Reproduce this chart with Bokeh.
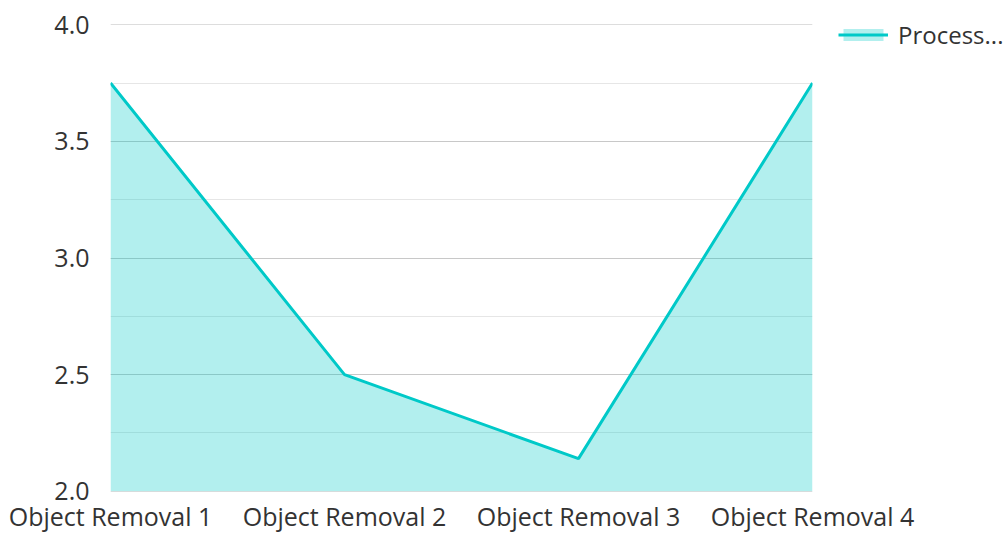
from bokeh.plotting import figure
from bokeh.models import Range1d, FixedTicker, SingleIntervalTicker, NumeralTickFormatter, Legend, LegendItem, ColumnDataSource
from bokeh.embed import file_html
from bokeh.resources import INLINE

categories = ["Object Removal 1", "Object Removal 2", "Object Removal 3", "Object Removal 4"]
values = [3.75, 2.5, 2.14, 3.75]
series_name = "Process..."

xs = list(range(len(categories)))
src = ColumnDataSource(dict(x=xs, y=values, base=[2.0] * len(xs)))

FONT = "Open Sans"
TXT = "#333333"
LINE = "#00c9c8"

p = figure(frame_width=702, frame_height=467, output_backend="svg", toolbar_location=None,
           x_range=Range1d(0, 3), y_range=Range1d(1.999, 4.001),
           min_border_left=110, min_border_right=178, min_border_top=24, min_border_bottom=39)
p.outline_line_color = None
p.background_fill_color = "white"

p.xaxis.ticker = FixedTicker(ticks=xs)
p.xaxis.major_label_overrides = {i: c for i, c in enumerate(categories)}
p.yaxis.ticker = SingleIntervalTicker(interval=0.5, num_minor_ticks=2)
p.yaxis.formatter = NumeralTickFormatter(format="0.0")
for ax in (p.xaxis[0], p.yaxis[0]):
    ax.axis_line_color = None
    ax.major_tick_line_color = None
    ax.minor_tick_line_color = None
    ax.major_tick_out = 0
    ax.major_tick_in = 0
    ax.minor_tick_out = 0
    ax.major_label_text_font = FONT
    ax.major_label_text_font_size = "25px"
    ax.major_label_text_color = TXT
p.yaxis.major_label_standoff = 21
p.xaxis.major_label_standoff = 7

p.xgrid.grid_line_color = None
p.ygrid.grid_line_color = "#c8c8c8"
p.ygrid.grid_line_width = 1
p.ygrid.minor_grid_line_color = "#e6e6e6"

area = p.varea(x="x", y1="base", y2="y", source=src, fill_color=LINE, fill_alpha=0.3)
line = p.line(x="x", y="y", source=src, line_color=LINE, line_width=3)

legend = Legend(items=[LegendItem(label=series_name, renderers=[area, line])],
                location=(26, 440), border_line_color=None, background_fill_alpha=0,
                label_text_font=FONT, label_text_font_size="24px", label_text_color=TXT,
                glyph_width=50, glyph_height=15, padding=0, margin=0, label_standoff=10,
                spacing=0)
p.add_layout(legend, "right")

open("out.html", "w").write(file_html(p, INLINE))
